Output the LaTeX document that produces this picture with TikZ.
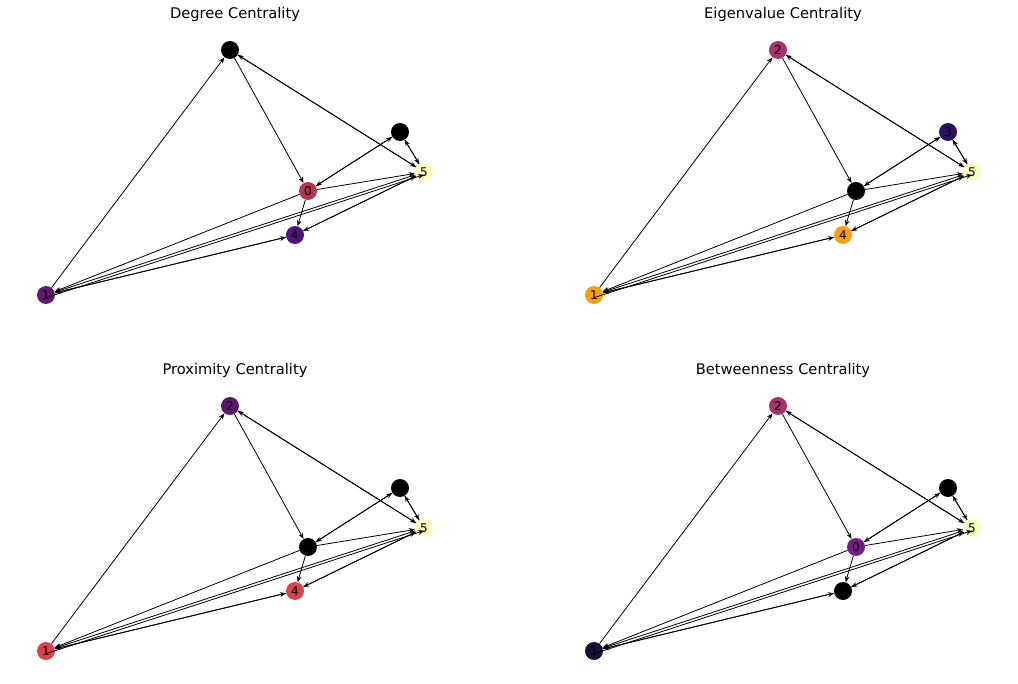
\documentclass[tikz,border=0pt]{standalone}
\usepackage{fontspec}
\setmainfont{DejaVu Sans}
\usetikzlibrary{arrows.meta}
\definecolor{cy}{HTML}{FCFDBF}
\definecolor{cA}{HTML}{B5364F}
\definecolor{cB}{HTML}{51127C}
\definecolor{cC}{HTML}{5D1A6E}
\definecolor{cD}{HTML}{A8326F}
\definecolor{cE}{HTML}{2C115F}
\definecolor{cF}{HTML}{F9A00D}
\definecolor{cG}{HTML}{5C166E}
\definecolor{cH}{HTML}{D8434C}
\definecolor{cI}{HTML}{721F81}
\definecolor{cJ}{HTML}{1A0F3A}
\tikzset{
 nd/.style={circle,inner sep=0pt,minimum size=13.5pt,font=\fontsize{9}{9}\selectfont},
 ed/.style={-{Stealth[length=4.5pt,width=3.5pt]},line width=0.6pt},
 ttl/.style={font=\fontsize{11}{12}\selectfont},
}
% #1 prefix, #2 title, #3..#8 colors of nodes 0..5
\newcommand\graphpanel[8]{
 \node[ttl] (#1t) at (235,14) {#2};
 \node[nd,fill=#3] (#10) at (308,191) {0};
 \node[nd,fill=#4] (#11) at (46,295) {1};
 \node[nd,fill=#5] (#12) at (230,50) {2};
 \node[nd,fill=#6] (#13) at (400,132) {3};
 \node[nd,fill=#7] (#14) at (295,235) {4};
 \node[nd,fill=#8] (#15) at (424,172) {5};
 \draw[ed] (#11) -- (#12);
 \draw[ed] (#12) -- (#10);
 \draw[ed] (#12) -- (#15);
 \draw[ed] (#15) -- (#12);
 \draw[ed] (#13) -- (#15);
 \draw[ed] (#15) -- (#13);
 \draw[ed] (#10) -- (#13);
 \draw[ed] (#13) -- (#10);
 \draw[ed] (#10) -- (#14);
 \draw[ed] (#10) -- (#15);
 \draw[ed] (#10) -- (#11);
 \draw[ed] (#15) -- (#11);
 \draw[ed] ([yshift=-2]#11.center) -- ([yshift=-2]#15.center);
 \draw[ed] (#11) -- (#14);
 \draw[ed] (#14) -- (#11);
 \draw[ed] (#14) -- (#15);
 \draw[ed] (#15) -- (#14);
}
\begin{document}
\begin{tikzpicture}[x=0.75pt,y=-0.75pt]
\useasboundingbox (0,0) rectangle (1018,684);
\begin{scope}
\graphpanel{a}{Degree Centrality}{cA}{cC}{black}{black}{cB}{cy}
\end{scope}
\begin{scope}[shift={(548,0)}]
\graphpanel{b}{Eigenvalue Centrality}{black}{cF}{cD}{cE}{cF}{cy}
\end{scope}
\begin{scope}[shift={(0,356)}]
\graphpanel{c}{Proximity Centrality}{black}{cH}{cG}{black}{cH}{cy}
\end{scope}
\begin{scope}[shift={(548,356)}]
\graphpanel{d}{Betweenness Centrality}{cI}{cJ}{cD}{black}{black}{cy}
\end{scope}
\end{tikzpicture}
\end{document}
